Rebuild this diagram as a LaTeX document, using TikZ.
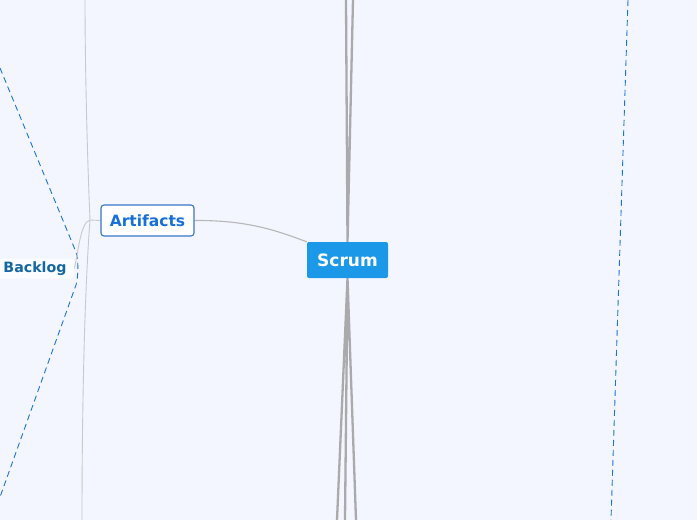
\documentclass[tikz,border=0pt]{standalone}
\usepackage{fontspec}
\setmainfont{DejaVu Sans}
\usepackage{tikz}
\usetikzlibrary{positioning,backgrounds}

\definecolor{bgblue}{RGB}{243,246,254}
\definecolor{scrumblue}{RGB}{28,152,232}
\definecolor{artblue}{RGB}{22,112,216}
\definecolor{artborder}{RGB}{58,118,200}
\definecolor{backtext}{RGB}{21,103,159}
\definecolor{linkblue}{RGB}{26,115,226}
\definecolor{thickgray}{RGB}{170,170,172}
\definecolor{thingray}{RGB}{200,200,206}

\begin{document}
\begin{tikzpicture}[x=1pt,
            y=-1pt,
            root/.style={fill=scrumblue, rounded corners=2pt, text=white,
                         font=\fontsize{17}{17}\selectfont\bfseries,
                         minimum width=81pt, minimum height=36pt, inner sep=0pt},
            topic/.style={draw=artborder, line width=1.1pt, fill=white, rounded corners=3pt, text=artblue,
                          font=\fontsize{15.5}{16}\selectfont\bfseries,
                          minimum width=93pt, minimum height=31pt, inner sep=0pt},
            leaf/.style={fill=white!70!bgblue, rounded corners=3pt, text=backtext,
                         font=\fontsize{14.2}{15}\selectfont\bfseries,
                         minimum width=78pt, minimum height=20pt, inner sep=0pt},
            trunk/.style={draw=thickgray, line width=2.3pt},
            twig/.style={draw=thingray, line width=0.9pt},
            branch/.style={draw=thickgray!85!white, line width=1.1pt},
            link/.style={draw=linkblue, line width=0.9pt, dash pattern=on 6pt off 4pt}]

        \useasboundingbox (0,0) rectangle (697,520);

        \node[root]  (scrum)     at (347.5,260)   {Scrum};
        \node[topic] (artifacts) at (147.5,220.5) {Artifacts};
        \node[leaf]  (backlog)   at (35,268.5)    {Backlog};

        \coordinate (fork) at (90,220);
        \coordinate (up1)  at (346,0);
        \coordinate (up2)  at (353,0);
        \coordinate (dn1)  at (337,520);
        \coordinate (dn2)  at (345,520);
        \coordinate (dn3)  at (356,520);
        \coordinate (lup)  at (85,0);
        \coordinate (ldn)  at (82,520);
        \coordinate (la)   at (0,68);
        \coordinate (lb)   at (0,497);
        \coordinate (ra)   at (628,0);
        \coordinate (rb)   at (611,520);

        % canvas and connectors behind the nodes
        \begin{scope}[on background layer]
        \fill[bgblue] (0,0) rectangle (697,520);

        \path[link] (la) -- (76,252) .. controls (78.5,260) and (78.5,276) .. (76,285) -- (lb);
        \path[link] (ra) -- (rb);

        \path[twig] (fork) .. controls (87,150) and (85,60) .. (lup);
        \path[twig] (fork) .. controls (84,300) and (82,420) .. (ldn);
        \path[twig] (fork) .. controls (80,222) and (78,256) .. (backlog.east);
        \path[twig] (artifacts.west) -- (fork);

        \path[branch] (artifacts.east) .. controls (250,220) and (280,232) .. (scrum.north west);

        \path[trunk] (scrum.north) -- (up1)
                     (scrum.north) -- (up2)
                     (scrum.south) -- (dn1)
                     (scrum.south) -- (dn2)
                     (scrum.south) -- (dn3);
        \end{scope}

    \end{tikzpicture}
\end{document}
